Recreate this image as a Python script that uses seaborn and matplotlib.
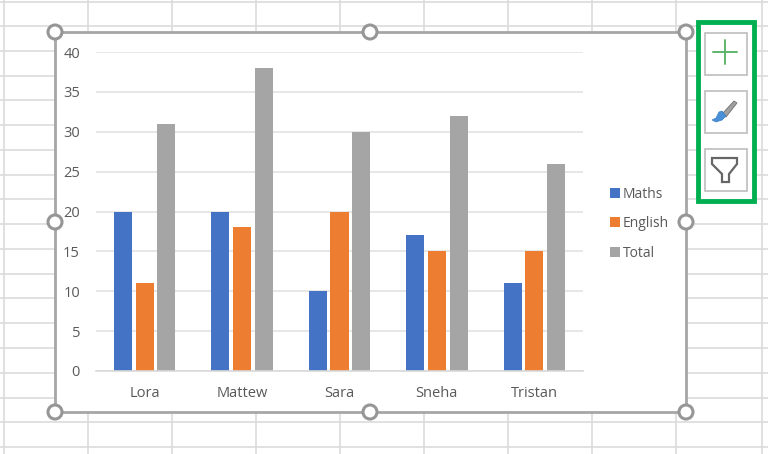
import matplotlib
matplotlib.use("Agg")
import matplotlib.pyplot as plt
from matplotlib.patches import Rectangle, Circle, Polygon
import pandas as pd
import seaborn as sns

students = ["Lora", "Mattew", "Sara", "Sneha", "Tristan"]
maths = [20, 20, 10, 17, 11]
english = [11, 18, 20, 15, 15]
total = [31, 38, 30, 32, 26]
subjects = ["Maths", "English", "Total"]
colours = ["#4472C4", "#ED7D31", "#A5A5A5"]
y_ticks = [0, 5, 10, 15, 20, 25, 30, 35, 40]

W, H = 768, 454
TEXT = "#595959"

sns.set_theme(style="white")
plt.rcParams["font.family"] = ["Open Sans", "DejaVu Sans"]

df = pd.DataFrame({"Student": students, "Maths": maths, "English": english, "Total": total})
long_df = df.melt(id_vars="Student", value_vars=subjects, var_name="Subject", value_name="Score")

fig = plt.figure(figsize=(W / 100, H / 100), dpi=100, facecolor="white")

# sheet behind the chart, in pixel coordinates
bg = fig.add_axes([0, 0, 1, 1], zorder=0)
bg.set_xlim(0, W)
bg.set_ylim(H, 0)
bg.axis("off")
for gx in [4, 88, 172, 256, 340, 424, 508, 592, 676, 762]:
    bg.plot([gx, gx], [0, H], color="#dcdcdc", lw=1.2)
for gy in [2, 26, 51, 76, 100, 125, 150, 175, 199, 224, 249, 274, 298, 323, 348, 373, 398, 422, 447]:
    bg.plot([0, W], [gy, gy], color="#dcdcdc", lw=1.2)
bg.add_patch(Rectangle((55, 32), 631, 380, facecolor="white", edgecolor="#a6a6a6", lw=2, zorder=3))

# the chart itself
ax = fig.add_axes([96 / W, 1 - 371 / H, 487 / W, 319 / H], zorder=2)
ax.patch.set_alpha(0)
sns.barplot(data=long_df, x="Student", y="Score", hue="Subject", hue_order=subjects,
            palette=colours, saturation=1, width=0.668, gap=0.17, linewidth=0, ax=ax)
ax.set_ylim(0, 40)
ax.set_yticks(y_ticks)
ax.set_xlabel("")
ax.set_ylabel("")
ax.yaxis.grid(True, color="#e3e3e3", lw=1.2)
ax.set_axisbelow(True)
for side in ["top", "right", "left"]:
    ax.spines[side].set_visible(False)
ax.spines["bottom"].set_color("#d9d9d9")
ax.spines["bottom"].set_linewidth(1.2)
ax.tick_params(axis="x", length=0, pad=10.5, labelsize=10.5, labelcolor=TEXT)
ax.tick_params(axis="y", length=0, pad=11.5, labelsize=10.5, labelcolor=TEXT)
ax.legend(loc="center left", bbox_to_anchor=(1.055, 0.462), frameon=False, fontsize=10,
          labelcolor=TEXT, handlelength=0.72, handleheight=0.72, handletextpad=0.22,
          labelspacing=1.04, borderpad=0, borderaxespad=0)

# selection handles and the side buttons
over = fig.add_axes([0, 0, 1, 1], zorder=3)
over.set_xlim(0, W)
over.set_ylim(H, 0)
over.axis("off")
over.patch.set_alpha(0)
for hx, hy in [(55, 32), (370, 32), (686, 32), (55, 222), (686, 222), (55, 412), (370, 412), (686, 412)]:
    over.add_patch(Circle((hx, hy), 7, facecolor="white", edgecolor="#969696", lw=2.2))

over.add_patch(Rectangle((698, 22), 56, 179, facecolor="white", edgecolor="#00B050", lw=3.5))
for by in [33, 91, 149]:
    over.add_patch(Rectangle((705, by), 42, 42, facecolor="white", edgecolor="#bdbdbd", lw=1.2))

over.plot([713, 737], [52, 52], color="#5DB56A", lw=1.4)
over.plot([725, 725], [40, 64], color="#5DB56A", lw=1.4)

over.add_patch(Polygon([[722, 114], [734, 101], [737, 103], [726, 117]], facecolor="#a0a0a0", edgecolor="#707070", lw=0.6))
over.add_patch(Polygon([[712, 120], [716, 118], [719, 112], [722, 111], [726, 116], [722, 120], [716, 122]],
                       facecolor="#4A90D9", edgecolor="#3C7FC4", lw=0.5))

over.add_patch(Polygon([[712, 158], [737, 158], [737, 164], [729, 174], [729, 182], [722, 182], [722, 174], [712, 164]],
                       facecolor="white", edgecolor="#666666", lw=1.6))

fig.savefig("out.png", dpi=100)
